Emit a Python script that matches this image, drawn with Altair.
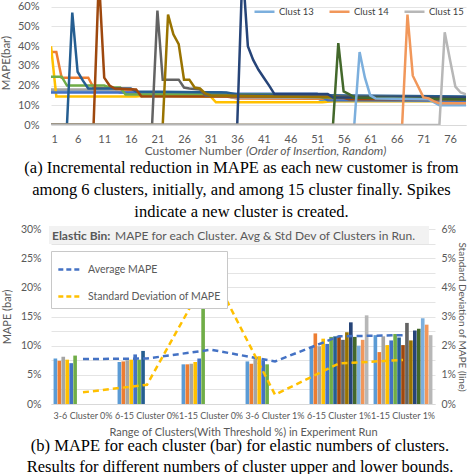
import altair as alt
import pandas as pd

FONT = "Lato"
TXT = "#595959"
SERIF = "Liberation Serif"

# ---------------- top chart: MAPE per cluster as customers are inserted ----------------
clusters = [f"Clust {i}" for i in range(1, 16)]
cluster_colors = ["#5B9BD5", "#ED7D31", "#A5A5A5", "#FFC000", "#4472C4", "#70AD47",
                  "#255E91", "#9E480E", "#636363", "#997300", "#264478", "#43682B",
                  "#7CAFDD", "#F1975A", "#B7B7B7"]

# breakpoints (customer number, MAPE %)
c01_x = [1, 13, 14, 33, 34, 50, 52, 79]
c01_y = [17.5, 17.5, 16.5, 16.5, 15.3, 15.3, 12.2, 12.2]
c02_x = [1, 2, 3, 8, 9, 16, 18, 34, 36, 79]
c02_y = [37, 37, 24, 24, 19, 17.5, 15, 14.5, 13.5, 13]
c03_x = [1, 12, 13, 20, 33, 35, 79]
c03_y = [18, 18, 17, 16, 16, 14, 13.5]
c04_x = [1, 2, 17, 19, 31, 32, 52, 54, 79]
c04_y = [40, 14.5, 14.5, 15, 14.5, 11.5, 11.5, 12, 12]
c05_x = [1, 33, 35, 51, 53, 79]
c05_y = [16.5, 16.5, 15.8, 15.8, 12.5, 12.3]
c06_x = [1, 3, 4, 11, 12, 14, 15, 36, 50, 52, 79]
c06_y = [24.5, 24.5, 20, 20, 19, 19, 15.5, 15.5, 15.5, 14, 13.5]
c07_x = [1, 4, 5, 6, 7, 8, 16, 17, 34, 36, 79]
c07_y = [0, 0, 57, 27, 22.5, 18.5, 18.5, 17, 16.5, 15.5, 14.5]
c08_x = [1, 9, 10, 11, 12, 13, 17, 18, 55, 57, 79]
c08_y = [0, 0, 75, 24, 20, 18.5, 18, 14.5, 14.5, 13, 13]
c09_x = [1, 20, 21, 22, 25, 26, 27, 29, 30, 79]
c09_y = [0, 0, 58, 23, 23, 19, 18.5, 18, 15, 14]
c10_x = [1, 22, 23, 24, 25, 26, 27, 28, 29, 30, 31, 79]
c10_y = [0, 0, 56, 46, 41, 23, 23, 19, 18.5, 16, 15, 13]
c11_x = [1, 36, 37, 38, 39, 40, 41, 42, 43, 53, 54, 79]
c11_y = [0, 0, 80, 40, 33, 28, 24, 20, 15.7, 15.7, 14, 14]
c12_x = [1, 54, 55, 56, 57, 58, 79]
c12_y = [0, 0, 41.5, 17, 15.7, 14, 13]
c13_x = [1, 58, 59, 60, 61, 62, 72, 74, 79]
c13_y = [0, 0, 37, 24, 15, 13.5, 13, 10, 10]
c14_x = [1, 67, 68, 69, 70, 71, 72, 73, 74, 79]
c14_y = [0, 0, 56, 25, 19.5, 14, 13.5, 12, 11, 11]
c15_x = [1, 74, 75, 76, 77, 78, 79]
c15_y = [0, 0, 47, 33, 19.5, 16.5, 15.5]

all_x = [c01_x, c02_x, c03_x, c04_x, c05_x, c06_x, c07_x, c08_x, c09_x, c10_x,
         c11_x, c12_x, c13_x, c14_x, c15_x]
all_y = [c01_y, c02_y, c03_y, c04_y, c05_y, c06_y, c07_y, c08_y, c09_y, c10_y,
         c11_y, c12_y, c13_y, c14_y, c15_y]

top_x_ticks = list(range(1, 80, 5))
top_y_ticks = [0, 0.1, 0.2, 0.3, 0.4, 0.5, 0.6]

rows = []
for name, xs, ys in zip(clusters, all_x, all_y):
    for x, y in zip(xs, ys):
        rows.append({"cluster": name, "customer": x, "mape": y / 100})
df_top = pd.DataFrame(rows)

TOP_W, TOP_H = 415, 125

top_lines = alt.Chart(df_top).mark_line(strokeWidth=2.5, clip=True).encode(
    x=alt.X("customer:Q",
            scale=alt.Scale(domain=[1, 79], nice=False, zero=False),
            axis=alt.Axis(values=top_x_ticks, title=None, ticks=False, grid=False,
                          domainColor="#D9D9D9", labelFont=FONT, labelFontSize=11,
                          labelColor=TXT, labelPadding=8)),
    y=alt.Y("mape:Q",
            scale=alt.Scale(domain=[0, 0.634], nice=False),
            axis=alt.Axis(values=top_y_ticks, format=".0%", title="MAPE(bar)",
                          ticks=False, domain=False, gridColor="#E4E4E4",
                          labelFont=FONT, labelFontSize=11, labelColor=TXT, labelPadding=12,
                          titleFont=FONT, titleFontSize=11.5, titleColor=TXT,
                          titleFontWeight="normal", titlePadding=6)),
    color=alt.Color("cluster:N",
                    scale=alt.Scale(domain=clusters, range=cluster_colors),
                    legend=alt.Legend(values=["Clust 13", "Clust 14", "Clust 15"],
                                      orient="none", legendX=202, legendY=0,
                                      direction="horizontal", title=None,
                                      symbolType="stroke", symbolSize=400,
                                      symbolStrokeWidth=2.5, labelFont=FONT,
                                      labelFontSize=9.5, labelColor="#404040",
                                      columnPadding=10, labelOffset=3, padding=0)),
)

xtitle_a = alt.Chart(pd.DataFrame({"t": ["Customer Number"]})).mark_text(
    align="right", baseline="middle", font=FONT, fontSize=12, color=TXT
).encode(x=alt.value(191), y=alt.value(TOP_H + 26), text="t:N")
xtitle_b = alt.Chart(pd.DataFrame({"t": ["(Order of Insertion, Random)"]})).mark_text(
    align="left", baseline="middle", font=FONT, fontSize=12, fontStyle="italic", color=TXT
).encode(x=alt.value(195), y=alt.value(TOP_H + 26), text="t:N")

caption_a = ["(a) Incremental reduction in MAPE as each new customer is from",
             "among 6 clusters, initially, and among 15 cluster finally. Spikes",
             "indicate a new cluster is created."]

top = alt.layer(top_lines, xtitle_a, xtitle_b).properties(
    width=TOP_W, height=TOP_H,
    title=alt.TitleParams(text=caption_a, orient="bottom", anchor="middle",
                          font=SERIF, fontSize=16.5, fontWeight="normal",
                          color="black", lineHeight=22, offset=3, dx=-17),
)

# ---------------- bottom chart: elastic bin ----------------
groups = ["3-6 Cluster 0%", "6-15 Cluster 0%", "1-15 Cluster 0%",
          "3-6 Cluster 1%", "6-15 Cluster 1%", "1-15 Cluster 1%"]
g1 = [7.8, 7.4, 8.1, 7.6, 7.0, 8.3]
g2 = [7.2, 7.3, 7.5, 7.6, 8.5, 7.6, 9.1]
g3 = [6.8, 6.8, 6.9, 7.2, 7.8, 19.4]
g4 = [7.3, 6.9, 7.7, 8.2, 7.5, 6.8]
g5 = [9.7, 12.1, 9.9, 11.2, 10.3, 11.5, 11.6, 11.5, 11.0, 12.3, 14.0, 11.5, 10.0, 11.0, 15.2]
g6 = [11.8, 8.9, 11.6, 10.1, 10.9, 12.0, 11.4, 10.1, 13.9, 10.9, 12.6, 12.9, 14.7, 13.6, 11.8]
avg_mape = [7.7, 7.8, 9.3, 7.3, 11.6, 11.8]
std_mape = [0.40, 0.66, 4.6, 0.32, 1.39, 1.51]
series_names = ["Average MAPE", "Standard Deviation of MAPE"]

brows = []
for gname, vals in zip(groups, [g1, g2, g3, g4, g5, g6]):
    for k, v in enumerate(vals):
        brows.append({"group": gname, "slot": k + 1, "value": v / 100,
                      "fill": cluster_colors[k]})
df_bars = pd.DataFrame(brows)
df_avg = pd.DataFrame({"group": groups, "value": [v / 100 for v in avg_mape],
                       "series": series_names[0]})
df_std = pd.DataFrame({"group": groups, "value": [v / 100 for v in std_mape],
                       "series": series_names[1]})

BOT_W, BOT_H = 384, 175
left_vals = [0, 0.025, 0.05, 0.075, 0.1, 0.125, 0.15, 0.175, 0.2, 0.225, 0.25, 0.275, 0.3]
right_vals = [0, 0.01, 0.02, 0.03, 0.04, 0.05, 0.06]

xenc = alt.X("group:N", sort=groups,
             scale=alt.Scale(paddingInner=0.08, paddingOuter=0.04),
             axis=alt.Axis(title="Range of Clusters(With Threshold %) in Experiment Run",
                           labelAngle=0, labelOverlap=False, ticks=False,
                           domainColor="#D9D9D9", labelFont=FONT, labelFontSize=9,
                           labelColor=TXT, labelPadding=7, titleFont=FONT,
                           titleFontSize=11, titleColor=TXT, titleFontWeight="normal",
                           titlePadding=6))

left_axis = alt.Axis(values=left_vals, format=".0%", title="MAPE (bar)",
                     labelExpr="round(datum.value*1000) % 50 == 0 ? format(datum.value, '.0%') : ''",
                     labelOverlap=False,
                     ticks=False, domain=False, gridColor="#E4E4E4",
                     labelFont=FONT, labelFontSize=10.5, labelColor=TXT,
                     labelPadding=10, titleFont=FONT, titleFontSize=11,
                     titleColor=TXT, titleFontWeight="normal", titlePadding=8)
left_scale = alt.Scale(domain=[0, 0.30], nice=False)

color_enc = alt.Color("series:N",
                      scale=alt.Scale(domain=series_names, range=["#4472C4", "#FFC000"]),
                      legend=alt.Legend(orient="none", legendX=0, legendY=22, title=None,
                                        symbolType="stroke", symbolSize=500,
                                        symbolStrokeWidth=2.5, symbolDash=[5, 3],
                                        labelFont=FONT, labelFontSize=10.5,
                                        labelColor=TXT, rowPadding=9, labelOffset=6,
                                        padding=6, fillColor="white",
                                        strokeColor="#C8C8C8"))

bars = alt.Chart(df_bars).mark_bar().encode(
    x=xenc,
    xOffset=alt.XOffset("slot:O", scale=alt.Scale(domain=list(range(1, 16)), paddingInner=0.08)),
    y=alt.Y("value:Q", scale=left_scale, axis=left_axis),
    fill=alt.Fill("fill:N", scale=None),
)

avg_line = alt.Chart(df_avg).mark_line(strokeWidth=2.5, strokeDash=[6, 4]).encode(
    x=alt.X("group:N", sort=groups),
    y=alt.Y("value:Q", scale=left_scale, axis=left_axis),
    color=color_enc,
)

std_line = alt.Chart(df_std).mark_line(strokeWidth=2.5, strokeDash=[6, 4]).encode(
    x=alt.X("group:N", sort=groups),
    y=alt.Y("value:Q", scale=alt.Scale(domain=[0, 0.06], nice=False),
            axis=alt.Axis(orient="right", values=right_vals, format=".0%",
                          title="Standard Deviation of MAPE (line)", grid=False,
                          ticks=False, domain=False, labelFont=FONT, labelFontSize=10.5,
                          labelColor=TXT, labelPadding=6, titleFont=FONT,
                          titleFontSize=10, titleColor=TXT, titleFontWeight="normal",
                          titlePadding=1)),
    color=color_enc,
)

box = alt.Chart(pd.DataFrame({"a": [1]})).mark_rect(color="#F2F2F2").encode(
    x=alt.value(-2), x2=alt.value(378), y=alt.value(-3), y2=alt.value(15))
box_bold = alt.Chart(pd.DataFrame({"t": ["Elastic Bin:"]})).mark_text(
    align="left", baseline="middle", font=FONT, fontSize=12, fontWeight="bold", color=TXT
).encode(x=alt.value(1), y=alt.value(7), text="t:N")
box_reg = alt.Chart(pd.DataFrame({"t": ["MAPE for each Cluster. Avg & Std Dev of Clusters in Run."]})).mark_text(
    align="left", baseline="middle", font=FONT, fontSize=12, color=TXT
).encode(x=alt.value(64), y=alt.value(7), text="t:N")

caption_b = ["(b) MAPE for each cluster (bar) for elastic numbers of clusters.",
             "Results for different numbers of cluster upper and lower bounds."]

bottom = alt.layer(alt.layer(bars, avg_line), std_line, box, box_bold, box_reg).resolve_scale(
    y="independent"
).properties(
    width=BOT_W, height=BOT_H,
    title=alt.TitleParams(text=caption_b, orient="bottom", anchor="middle",
                          font=SERIF, fontSize=16.5, fontWeight="normal",
                          color="black", lineHeight=21, offset=1, dx=-3),
)

chart = alt.vconcat(top, bottom, spacing=3).resolve_scale(color="independent").properties(
    padding={"left": 0, "top": 0, "right": 0, "bottom": 0},
    background="white",
).configure_view(stroke=None)

chart.save("out.html", embed_options={"renderer": "svg", "actions": False})
